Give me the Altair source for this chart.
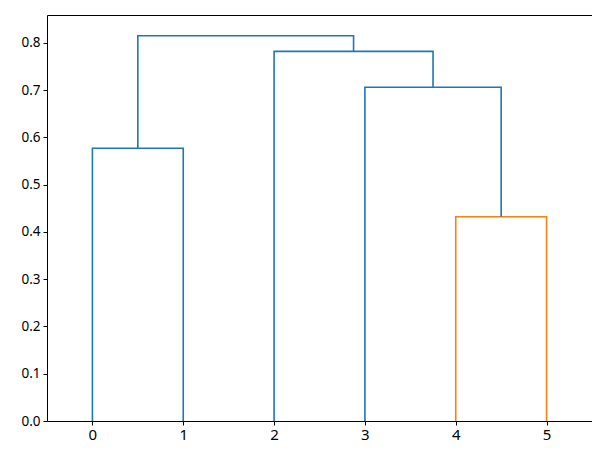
import altair as alt
import pandas as pd

# scipy-style dendrogram coordinates (each link is a U shape of 4 points)
link_x = [
    [45, 45, 55, 55],
    [5, 5, 15, 15],
    [35, 35, 50, 50],
    [25, 25, 42.5, 42.5],
    [10, 10, 33.75, 33.75],
]
link_y = [
    [0.0, 0.432, 0.432, 0.0],
    [0.0, 0.577, 0.577, 0.0],
    [0.0, 0.706, 0.706, 0.432],
    [0.0, 0.782, 0.782, 0.706],
    [0.577, 0.815, 0.815, 0.782],
]
link_color = ["#ff7f0e", "#1f77b4", "#1f77b4", "#1f77b4", "#1f77b4"]
leaf_pos = [5, 15, 25, 35, 45, 55]
leaf_labels = ["0", "1", "2", "3", "4", "5"]
y_ticks = [0.0, 0.1, 0.2, 0.3, 0.4, 0.5, 0.6, 0.7, 0.8]

rows = []
for i, (xs, ys) in enumerate(zip(link_x, link_y)):
    for j, (x, y) in enumerate(zip(xs, ys)):
        rows.append({"link": i, "order": j, "x": x, "y": y, "color": link_color[i]})
df = pd.DataFrame(rows)

label_expr = "{" + ",".join(f"'{p}':'{l}'" for p, l in zip(leaf_pos, leaf_labels)) + "}[datum.value]"

chart = alt.Chart(df).mark_line(strokeWidth=1.6).encode(
    x=alt.X("x:Q", scale=alt.Scale(domain=[0, 60], nice=False, zero=False),
            axis=alt.Axis(values=leaf_pos, labelExpr=label_expr, title=None, grid=False,
                          labelFontSize=15, tickSize=4, labelPadding=2, domain=False,
                          tickColor="black", labelColor="black")),
    y=alt.Y("y:Q", scale=alt.Scale(domain=[0, 0.859], nice=False),
            axis=alt.Axis(values=y_ticks, format=".1f", title=None, grid=False,
                          labelFontSize=13.5, tickSize=4, labelPadding=3, domain=False,
                          tickColor="black", labelColor="black")),
    detail="link:N",
    order="order:Q",
    color=alt.Color("color:N", scale=None),
).properties(
    width=545, height=406,
    autosize=alt.AutoSizeParams(type="none"),
    padding={"left": 39, "top": 7, "right": 0, "bottom": 24},
).configure_view(
    stroke="black", strokeWidth=1
).configure_axis(
    labelFont="Noto Sans"
)

chart.save("out.html", embed_options={"renderer": "svg", "actions": False})
